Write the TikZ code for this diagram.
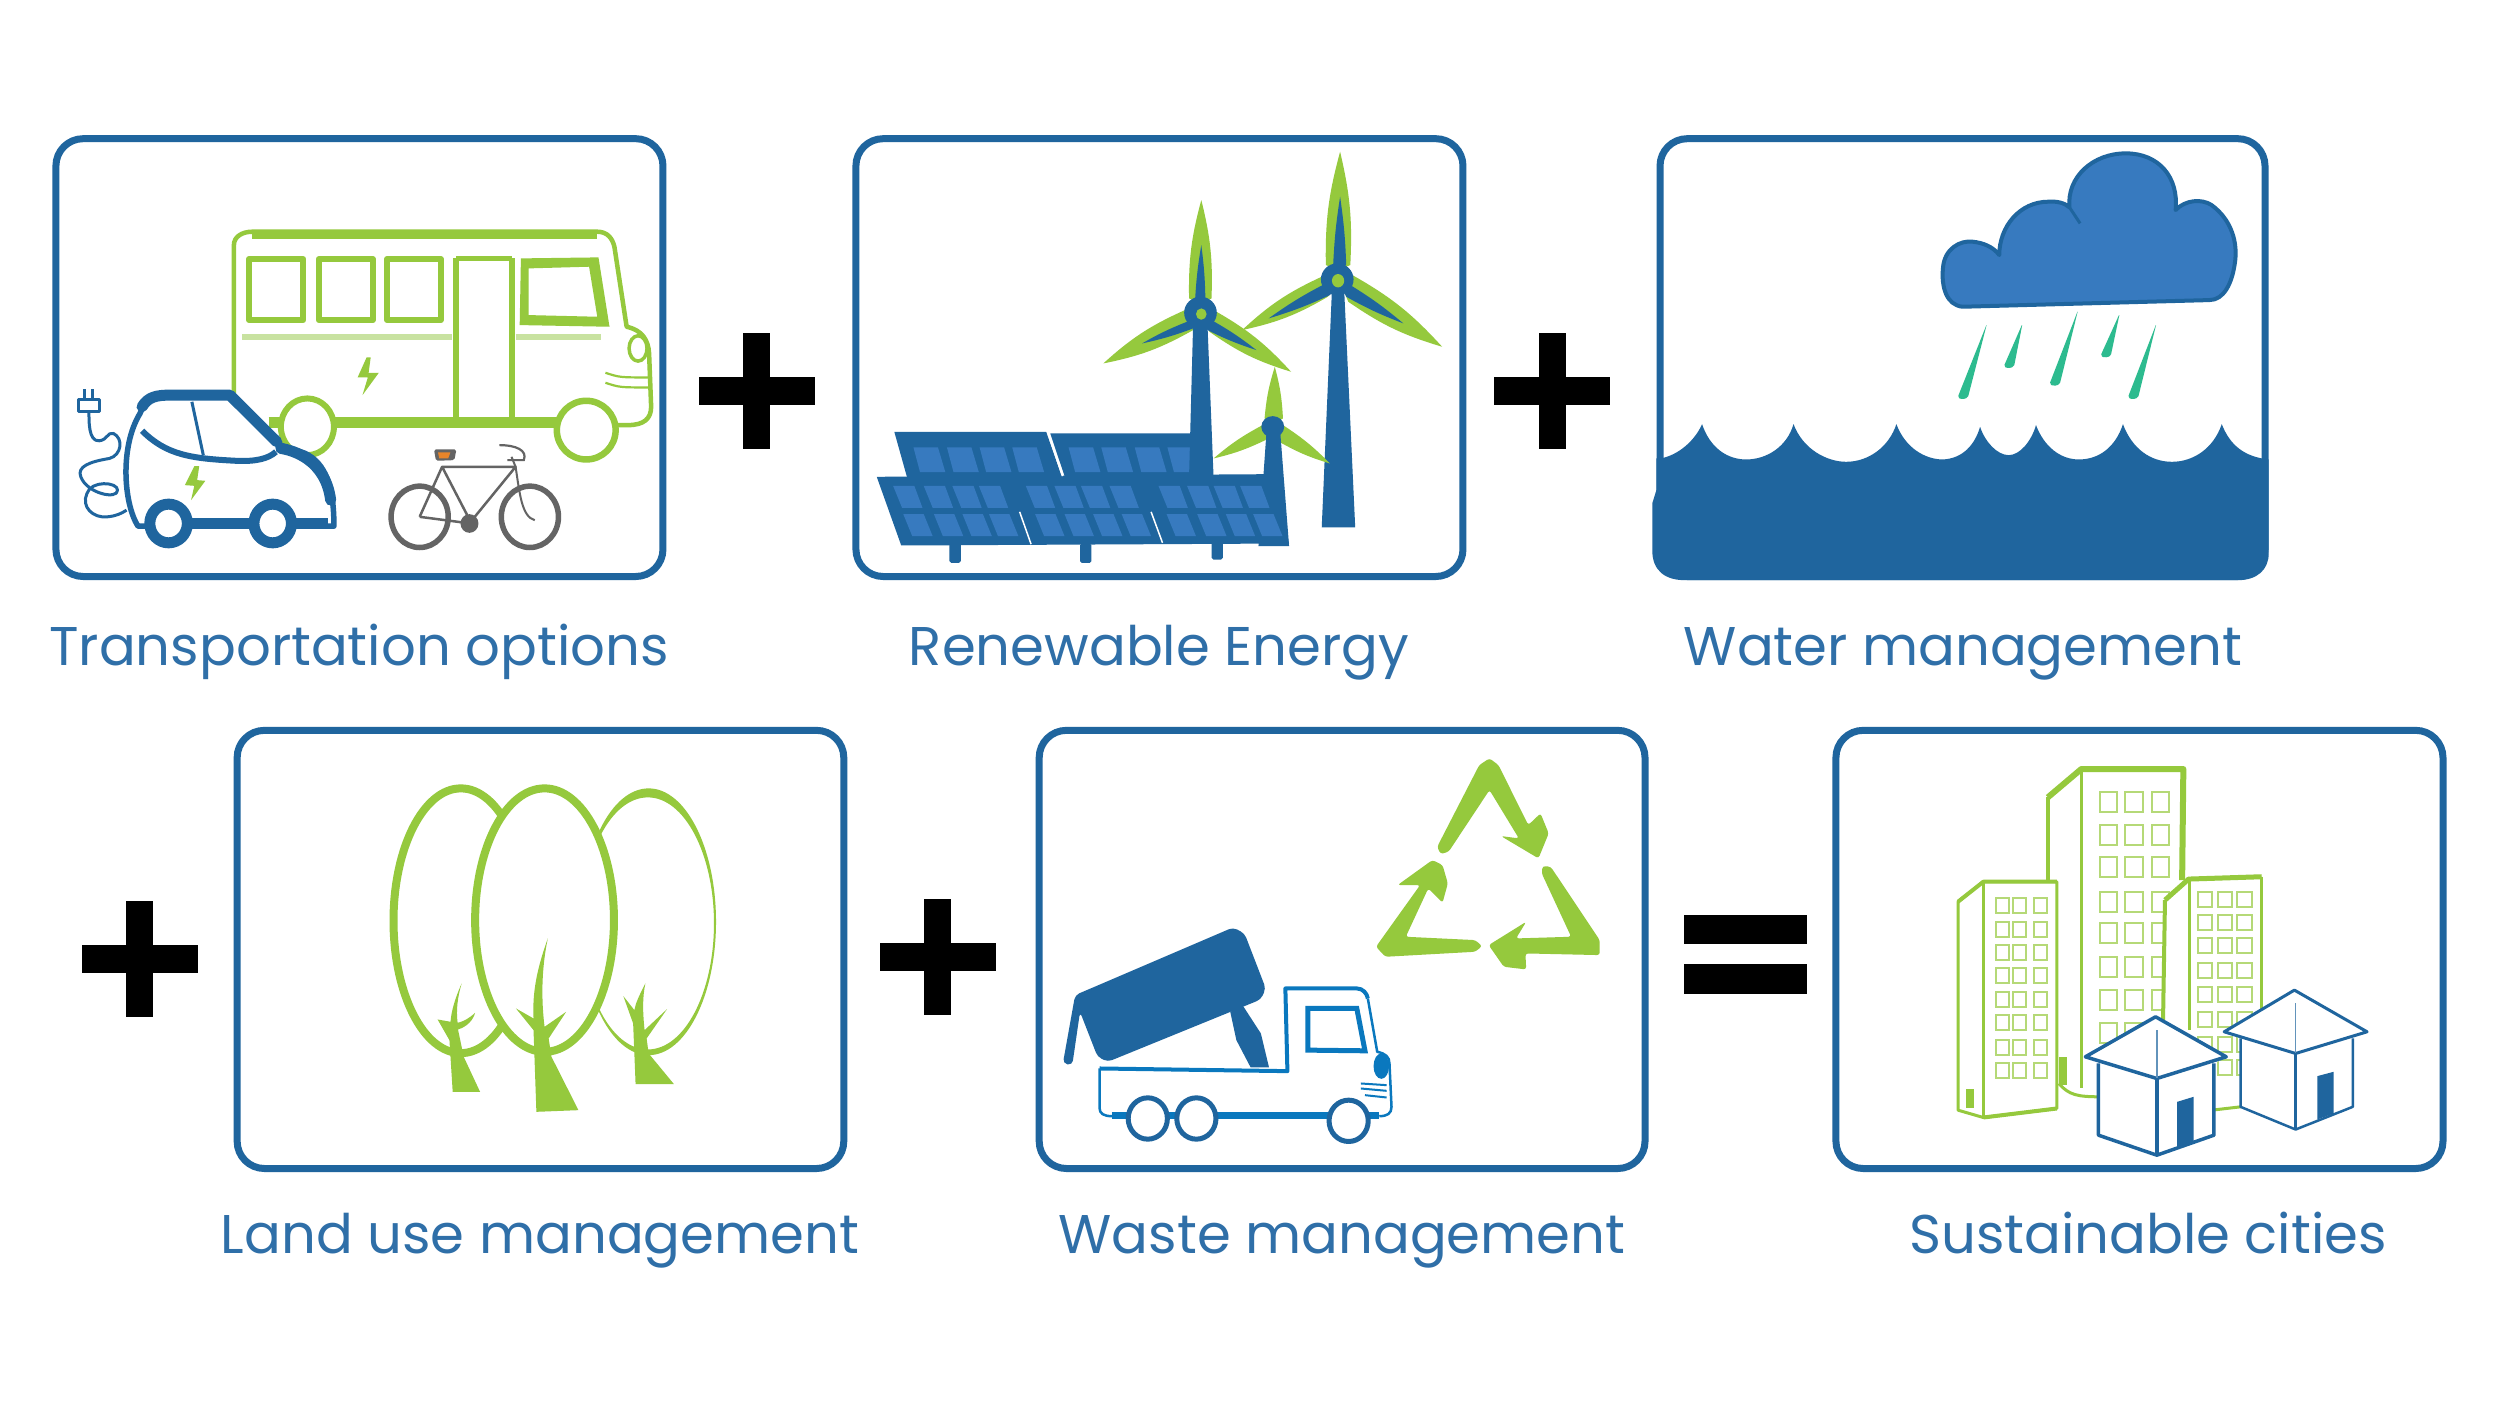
\documentclass[tikz,border=0pt]{standalone}
\usepackage{fontspec}
\setmainfont[Ligatures=NoCommon]{Poppins}
\definecolor{fb}{RGB}{31,101,158}
\definecolor{gn}{RGB}{149,201,61}
\definecolor{lg}{RGB}{200,226,160}
\definecolor{cb}{RGB}{55,122,191}
\definecolor{rn}{RGB}{45,187,143}
\definecolor{tb}{RGB}{10,120,190}
\definecolor{gy}{RGB}{100,100,100}
\definecolor{og}{RGB}{232,133,42}
\definecolor{tx}{RGB}{47,111,168}
\tikzset{
 lw/.style={line width=#1*1.138pt},
 zm/.style={shift={(#1)},x=0.016327cm,y=-0.013333cm},
 frm/.style={draw=fb,lw=7,rounded corners=31pt},
 lab/.style={anchor=base,text=tx,font=\fontsize{62}{68}\selectfont,inner sep=0pt},
 gl/.style={draw=gn,line join=round},
 bl/.style={draw=fb,line join=round},
}
\newcommand{\plusmark}[2]{\fill[black] (#1-13.5,#2-58) rectangle (#1+13.5,#2+58);\fill[black] (#1-58,#2-14) rectangle (#1+58,#2+14);}
\newcommand{\blade}[6]{\fill[#1] (#2) to[bend left=#6] (#3) to[bend left=#6] (#4) -- (#5) -- cycle;}
\newcommand{\rain}[4]{\fill[rn,rounded corners=2pt] (#1,#2) -- (#3+13,#4-2) -- (#3-2,#4+3) -- (#3-12,#4-3) -- cycle;}
\begin{document}
\begin{tikzpicture}[x=0.04cm,y=-0.04cm]
\useasboundingbox (0,0) rectangle (2500,1404);
\fill[white] (0,0) rectangle (2500,1404);
% icon 1
\begin{scope}[zm={40,120}]
\draw[frm] (39,56) rectangle (1526,1369);
% bus
\draw[gl,lw=4.5] (475,820) -- (475,375) .. controls (475,350) and (495,335) .. (520,335) -- (1365,335) .. controls (1390,335) and (1402,355) .. (1407,380) -- (1437,620) .. controls (1475,630) and (1490,660) .. (1492,700) -- (1497,860) .. controls (1497,895) and (1480,915) .. (1440,915) -- (1400,915);
\draw[draw=gn,lw=9] (520,342) -- (1365,342);
\draw[gl,lw=6] (512,417) rectangle (645,600);
\draw[gl,lw=6] (683,417) rectangle (815,600);
\draw[gl,lw=6] (850,417) rectangle (982,600);
\draw[gl,lw=6] (1020,415) -- (1020,900);
\draw[gl,lw=6] (1155,415) -- (1155,900);
\draw[gl,lw=5] (1020,415) -- (1155,415);
\fill[gn,even odd rule] (1178,415) -- (1368,412) -- (1395,620) -- (1175,615) -- cycle (1197,445) -- (1345,440) -- (1365,590) -- (1197,585) -- cycle;
\draw[lg,lw=6] (495,650) -- (1010,650);
\draw[lg,lw=6] (1165,650) -- (1375,650);
\draw[draw=gn,lw=11] (560,906) -- (1280,906);
\draw[gl,lw=3.5,fill=white] (1465,685) ellipse (22 and 38);
\draw[gl,lw=2.2] (1385,758) .. controls (1420,772) .. (1490,772);
\draw[gl,lw=2.2] (1385,788) .. controls (1420,802) .. (1490,802);
\draw[gl,lw=6,fill=white] (655,920) ellipse (65 and 85);
\draw[gl,lw=6.5,fill=white] (1338,930) ellipse (72 and 88);
\fill[gn] (800,712) -- (778,772) -- (803,772) -- (790,825) -- (830,758) -- (805,758) -- (810,712) -- cycle;
% car
\draw[bl,lw=5.5,fill=white] (240,1218) .. controls (205,1150) and (195,980) .. (245,880) .. controls (260,835) and (280,825) .. (320,825) -- (465,825) -- (580,965) .. controls (595,985) and (620,985) .. (650,1000) .. controls (700,1030) and (720,1100) .. (720,1218) -- cycle;
\draw[bl,lw=11,line cap=round] (250,860) .. controls (265,830) and (285,825) .. (320,825) -- (465,825) -- (580,965);
\draw[bl,lw=11,line cap=round] (590,985) .. controls (620,990) and (700,1020) .. (712,1140);
\draw[bl,lw=6] (250,932) .. controls (310,1005) and (370,1015) .. (480,1022) .. controls (530,1025) and (560,1015) .. (578,995);
\draw[bl,lw=3] (372,845) -- (400,1005);
\draw[bl,lw=10] (330,1208) -- (705,1208);
\draw[bl,lw=11,fill=white] (315,1210) ellipse (46 and 58);
\draw[bl,lw=11,fill=white] (570,1210) ellipse (46 and 58);
\fill[gn] (378,1038) -- (355,1095) -- (378,1097) -- (370,1140) -- (405,1082) -- (385,1080) -- (390,1038) -- cycle;
% plug
\draw[bl,lw=3] (95,838) rectangle (145,873);
\draw[bl,lw=3] (108,808) -- (108,838);
\draw[bl,lw=3] (128,808) -- (128,838);
\draw[bl,lw=3] (120,873) .. controls (120,900) and (118,965) .. (145,962) .. controls (165,960) and (165,935) .. (180,940) .. controls (205,955) and (200,1005) .. (170,1015) .. controls (120,1025) and (90,1040) .. (100,1070) .. controls (115,1120) and (190,1140) .. (190,1110) .. controls (190,1085) and (125,1080) .. (115,1120) .. controls (100,1160) and (130,1195) .. (165,1190) .. controls (185,1188) and (200,1180) .. (212,1170);
% bicycle
\draw[draw=gy,lw=5.5] (930,1190) ellipse (70 and 92);
\draw[draw=gy,lw=5.5] (1200,1190) ellipse (70 and 92);
\draw[draw=gy,lw=2.5,line join=round] (930,1190) -- (985,1040) -- (1055,1205) -- (1165,1040) -- (985,1040);
\draw[draw=gy,lw=2.5] (930,1190) -- (1055,1210);
\draw[draw=gy,lw=2] (1165,1040) -- (1155,1010);
\draw[draw=gy,lw=2] (1165,1040) .. controls (1175,1120) and (1180,1190) .. (1212,1200);
\draw[draw=gy,lw=2.2] (1125,975) .. controls (1165,975) and (1195,990) .. (1185,1020) -- (1145,1020);
\fill[gy] (1052,1210) ellipse (22 and 28);
\fill[gy,rounded corners=2pt] (965,988) -- (1020,988) -- (1015,1020) -- (970,1022) -- cycle;
\fill[og] (975,997) -- (1005,997) -- (1000,1015) -- (978,1015) -- cycle;
\end{scope}
% icon 2
\begin{scope}[zm={840,120}]
\draw[frm] (39,56) rectangle (1526,1369);
% big turbine
\blade{gn}{1190,435}{1225,95}{1250,435}{1220,450}{8}
\blade{gn}{1255,465}{1475,680}{1245,545}{1230,500}{9}
\blade{gn}{1195,530}{985,630}{1180,470}{1215,500}{9}
\blade{fb}{1208,435}{1225,230}{1240,435}{1220,450}{3}
\blade{fb}{1250,495}{1380,610}{1240,530}{1230,505}{4}
\blade{fb}{1200,525}{1050,595}{1190,490}{1215,505}{4}
\fill[fb] (1205,510) -- (1235,510) -- (1262,1222) -- (1180,1222) -- cycle;
\fill[fb] (1218,478) ellipse (40 and 48);
\fill[gn] (1220,482) ellipse (15 and 20);
% solar back
\fill[fb] (133,935) -- (505,935) -- (545,1075) -- (165,1075) -- cycle;
\fill[fb] (515,940) -- (860,940) -- (915,1075) -- (552,1075) -- cycle;
\foreach \q in {180,262,342,422,560,640,722,802}{\fill[cb] (\q,982) -- (\q+60,982) -- (\q+78,1056) -- (\q+16,1056) -- cycle;}
% middle turbine
\blade{gn}{855,535}{885,240}{910,535}{883,550}{8}
\blade{gn}{915,570}{1105,755}{905,635}{890,590}{9}
\blade{gn}{865,630}{645,730}{845,570}{880,590}{9}
\blade{fb}{870,535}{885,375}{895,535}{883,550}{3}
\blade{fb}{910,600}{1020,690}{900,630}{890,600}{4}
\blade{fb}{865,625}{740,670}{850,605}{880,600}{4}
\fill[fb] (865,610) -- (900,610) -- (915,1070) -- (855,1070) -- cycle;
\fill[fb] (883,578) ellipse (40 and 48);
\fill[gn] (885,582) ellipse (13 and 17);
% small turbine
\blade{gn}{1040,895}{1065,740}{1085,895}{1062,910}{6}
\blade{gn}{1085,915}{1200,1030}{1080,968}{1065,930}{6}
\blade{gn}{1042,960}{915,1015}{1035,915}{1055,930}{6}
\fill[fb] (1045,930) -- (1078,930) -- (1100,1278) -- (1025,1278) -- cycle;
\fill[fb] (1060,920) ellipse (28 and 32);
% solar front
\fill[fb] (90,1070) -- (1060,1062) -- (1100,1270) -- (150,1276) -- cycle;
\foreach \q in {130,205,275,340,455,525,590,660,780,850,915,980}{\fill[cb] (\q,1097) -- (\q+52,1097) -- (\q+72,1163) -- (\q+22,1163) -- cycle;}
\foreach \q in {155,230,300,365,478,550,620,690,800,875,945,1012}{\fill[cb] (\q,1182) -- (\q+50,1182) -- (\q+72,1248) -- (\q+22,1248) -- cycle;}
\draw[white,lw=1.5] (510,940) -- (545,1068);
\draw[white,lw=1.5] (440,1175) -- (468,1272);
\draw[white,lw=1.5] (762,1175) -- (790,1268);
\fill[fb,rounded corners=2pt] (268,1270) rectangle (296,1328);
\fill[fb,rounded corners=2pt] (588,1270) rectangle (616,1328);
\fill[fb,rounded corners=2pt] (910,1265) rectangle (938,1318);
\end{scope}
% icon 3
\begin{scope}[zm={1640,120}]
\draw[frm] (49,56) rectangle (1531,1369);
\fill[fb] (50,1015) .. controls (95,1005) and (135,960) .. (152,912)
 .. controls (172,985) and (215,1018) .. (260,1018)
 .. controls (310,1018) and (360,980) .. (376,912)
 .. controls (400,990) and (460,1025) .. (505,1025)
 .. controls (560,1025) and (610,980) .. (628,912)
 .. controls (650,985) and (700,1018) .. (742,1018)
 .. controls (790,1015) and (820,975) .. (833,920)
 .. controls (845,965) and (875,1005) .. (903,1005)
 .. controls (930,1005) and (958,965) .. (970,915)
 .. controls (990,980) and (1030,1018) .. (1075,1018)
 .. controls (1125,1018) and (1165,980) .. (1183,912)
 .. controls (1205,985) and (1250,1025) .. (1303,1025)
 .. controls (1355,1025) and (1405,985) .. (1425,912)
 .. controls (1445,975) and (1480,1010) .. (1540,1018)
 -- (1540,1300) .. controls (1540,1350) and (1510,1380) .. (1465,1380) -- (110,1380) .. controls (60,1380) and (30,1350) .. (30,1290) -- (30,1150) -- (40,1110) -- (40,1015) -- cycle;
\draw[draw=fb,lw=4,fill=cb,line join=round] (790,560) .. controls (750,555) and (738,500) .. (742,445) .. controls (745,385) and (785,360) .. (815,365) .. controls (840,368) and (865,380) .. (880,405) .. controls (880,320) and (930,245) .. (1000,245) .. controls (1020,243) and (1040,248) .. (1052,262) .. controls (1045,170) and (1110,100) .. (1190,100) .. controls (1270,100) and (1320,170) .. (1312,270) .. controls (1335,240) and (1375,235) .. (1400,255) .. controls (1450,300) and (1465,370) .. (1457,430) .. controls (1450,490) and (1430,540) .. (1395,540) -- cycle;
\draw[draw=fb,lw=3] (1052,262) -- (1078,310);
\rain{850}{610}{790}{835}
\rain{937}{610}{903}{742}
\rain{1073}{570}{1015}{795}
\rain{1175}{580}{1140}{710}
\rain{1265}{610}{1207}{835}
\end{scope}
% icon 4
\begin{scope}[zm={220,710}]
\draw[frm] (42,61) rectangle (1528,1375);
\fill[gn,even odd rule] (1050,635) ellipse (165 and 400) (1048,640) ellipse (162 and 378);
\draw[draw=gn,lw=8,fill=white] (590,632) ellipse (165 and 397);
\draw[draw=gn,lw=8,fill=white] (795,630) ellipse (170 and 395);
\fill[gn] (803,685) .. controls (775,780) and (765,850) .. (768,925) -- (725,895) -- (768,960) -- (775,1205) -- (878,1200) -- (812,1040) -- (805,985) -- (848,905) -- (795,950) .. controls (785,850) and (790,760) .. (803,685) -- cycle;
\fill[gn] (592,820) .. controls (570,880) and (565,920) .. (565,935) -- (533,928) -- (562,990) -- (570,1145) -- (637,1145) -- (597,1040) -- (583,958) .. controls (605,950) and (620,930) .. (625,908) .. controls (610,925) and (595,935) .. (582,938) .. controls (578,900) and (582,860) .. (592,820) -- cycle;
\fill[gn] (1042,820) .. controls (1025,860) and (1018,880) .. (1015,900) -- (988,858) -- (1012,940) -- (1018,1122) -- (1112,1122) -- (1050,1030) -- (1045,985) -- (1095,897) -- (1040,960) .. controls (1035,900) and (1035,860) .. (1042,820) -- cycle;
\end{scope}
% icon 5
\begin{scope}[zm={1020,710}]
\draw[frm] (47,61) rectangle (1531,1375);
\fill[gn,rounded corners=3pt] (1022,410) -- (1125,165) -- (1150,145) -- (1172,165) -- (1245,345) -- (1275,310) -- (1295,370) -- (1270,445) -- (1178,378) -- (1222,385) -- (1150,240) -- (1050,425) -- (1030,432) -- cycle;
\fill[gn,rounded corners=3pt] (1280,468) -- (1300,470) -- (1420,690) -- (1420,735) -- (1238,730) -- (1240,778) -- (1185,770) -- (1148,705) -- (1240,635) -- (1215,685) -- (1350,680) -- (1278,490) -- cycle;
\fill[gn,rounded corners=3pt] (1010,450) -- (1035,465) -- (1048,520) -- (1035,578) -- (1000,535) -- (945,680) -- (1115,690) -- (1132,708) -- (1115,725) -- (895,740) -- (872,710) -- (980,525) -- (925,525) -- cycle;
% truck
\draw[draw=tb,lw=2.5,line join=round] (195,1075) -- (195,1195) .. controls (195,1210) and (205,1218) .. (225,1218);
\draw[draw=tb,lw=4,line join=round] (195,1075) -- (655,1083) -- (650,835) -- (825,835) .. controls (840,835) and (850,850) .. (852,865);
\draw[draw=tb,lw=2.5,line join=round] (852,865) -- (875,1025) .. controls (895,1030) and (905,1040) .. (905,1060) -- (910,1190) .. controls (910,1210) and (900,1218) .. (880,1218);
\draw[draw=tb,lw=7] (225,1216) -- (880,1216);
\draw[draw=tb,lw=5,line join=miter] (705,895) -- (825,895) -- (845,1022) -- (705,1020) -- cycle;
\fill[tb] (885,1068) ellipse (19 and 38);
\draw[draw=tb,lw=2] (835,1120) -- (898,1125);
\draw[draw=tb,lw=2] (835,1135) -- (898,1142);
\draw[draw=tb,lw=2] (845,1155) -- (898,1162);
\draw[bl,lw=5,fill=white] (313,1225) ellipse (48 and 62);
\draw[bl,lw=5,fill=white] (432,1225) ellipse (48 and 62);
\draw[bl,lw=5,fill=white] (805,1232) ellipse (48 and 62);
\fill[fb] (515,905) -- (545,885) -- (590,970) -- (610,1072) -- (565,1072) -- (530,990) -- cycle;
\fill[fb,rounded corners=5pt] (135,855) -- (522,652) -- (550,670) -- (602,835) -- (590,868) -- (215,1055) -- (190,1040) -- (147,905) -- (128,1065) -- (105,1060) -- cycle;
\end{scope}
% icon 6
\begin{scope}[zm={1820,710}]
\draw[frm] (39,61) rectangle (1526,1375);
% center building
\draw[gl,lw=3.5] (558,510) -- (558,262);
\draw[gl,lw=6] (558,262) -- (640,177) -- (890,177) -- (887,510);
\draw[gl,lw=3.5] (640,177) -- (640,1135);
\draw[gl,lw=3] (585,1120) .. controls (610,1155) and (630,1160) .. (690,1160);
\foreach \c in {685,748,812}{\foreach \r in {245,345,440,545,640,740,840,940}{\draw[draw=gn!70,lw=2] (\c,\r) rectangle ++(42,60);}}
% left building
\draw[gl,lw=3,fill=white] (338,1200) -- (338,575) -- (400,515) -- (580,515) -- (580,1195) -- (400,1222) -- cycle;
\draw[gl,lw=4] (338,575) -- (400,515) -- (580,515);
\draw[gl,lw=2.5] (400,515) -- (400,1222);
\draw[gl,lw=4] (400,1222) -- (580,1195);
\foreach \c in {430,473,525}{\foreach \r in {565,635,705,775,845,915,990,1060}{\draw[draw=gn!70,lw=2] (\c,\r) rectangle ++(32,45);}}
\fill[gn] (358,1138) rectangle (376,1195);
\fill[gn] (585,1040) rectangle (606,1125);
% right building
\fill[white] (845,570) -- (903,507) -- (1080,500) -- (1080,1000) -- (845,1000) -- cycle;
\draw[gl,lw=5] (845,570) -- (903,507) -- (1082,500);
\draw[gl,lw=3] (1082,500) -- (1082,950);
\draw[gl,lw=4] (845,570) -- (840,950);
\draw[gl,lw=3] (905,507) -- (905,960);
\foreach \c in {925,975,1022}{\foreach \r in {545,615,685,760,830,905,980,1050}{\draw[draw=gn!70,lw=2] (\c,\r) rectangle ++(35,45);}}
\draw[gl,lw=3] (960,1200) -- (1030,1190);
% house A
\fill[white] (650,1040) -- (822,920) -- (995,1040) -- (965,1060) -- (965,1275) -- (825,1335) -- (682,1275) -- (682,1060) -- cycle;
\draw[bl,lw=3.5] (650,1040) -- (822,920) -- (995,1040) -- (825,1105) -- cycle;
\draw[bl,lw=3.5] (682,1060) -- (682,1275) -- (825,1335) -- (965,1275) -- (965,1060);
\draw[bl,lw=3.5] (825,1105) -- (825,1335);
\draw[draw=fb!70,lw=1.5] (825,960) -- (825,1105);
\fill[fb] (875,1175) -- (915,1160) -- (915,1295) -- (875,1310) -- cycle;
% house B
\fill[white] (990,965) -- (1162,840) -- (1340,965) -- (1305,985) -- (1305,1190) -- (1165,1258) -- (1030,1190) -- (1030,985) -- cycle;
\draw[bl,lw=3] (990,965) -- (1162,840) -- (1340,965) -- (1165,1030) -- cycle;
\draw[bl,lw=2.5] (1030,985) -- (1030,1190) -- (1165,1258) -- (1305,1190) -- (1305,985);
\draw[bl,lw=2.5] (1165,1030) -- (1165,1258);
\draw[draw=fb!70,lw=1.5] (1165,880) -- (1165,1030);
\fill[fb] (1218,1098) -- (1258,1085) -- (1258,1210) -- (1218,1228) -- cycle;
\end{scope}
% operators
\plusmark{756.5}{391}
\plusmark{1552}{391}
\plusmark{139.5}{959}
\plusmark{937.5}{957}
\fill[black] (1684,915) rectangle (1807,944);
\fill[black] (1684,964) rectangle (1807,994);
% labels
\node[lab] (l1) at (359,665) {Transportation options};
\node[lab] (l2) at (1159,665) {Renewable Energy};
\node[lab] (l3) at (1963,665) {Water management};
\node[lab] (l4) at (540,1253) {Land use management};
\node[lab] (l5) at (1342,1253) {Waste management};
\node[lab] (l6) at (2148,1253) {Sustainable cities};
\end{tikzpicture}
\end{document}
